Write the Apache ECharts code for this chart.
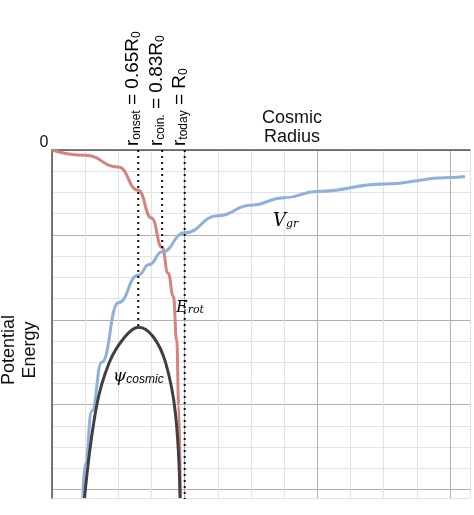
<!DOCTYPE html>
<html>
<head>
<meta charset="utf-8">
<script src="https://cdn.jsdelivr.net/npm/echarts@6/dist/echarts.min.js"></script>
<style>html,body{margin:0;padding:0;background:#fff}#container{width:474px;height:515px}</style>
</head>
<body>
<div id="container"></div>
<script>
// x in grid units (R0 = 4), y = potential energy (negative down)
var erotX = [0, 1, 2, 2.6, 3, 3.32, 3.5, 3.66, 3.76, 3.82, 3.87];
var erotY = [0, -0.25, -0.8, -1.9, -3.2, -4.6, -5.8, -6.9, -9.0, -12.0, -16.4];
var vgrX = [0.93, 1.0, 1.2, 1.5, 2, 2.6, 2.93, 3.32, 4, 5, 6, 7, 8, 10, 12, 12.45];
var vgrY = [-16.4, -14.8, -12.3, -10, -7.2, -5.9, -5.4, -4.8, -3.9, -3.1, -2.6, -2.25, -1.95, -1.6, -1.3, -1.25];
var psiX = [0.98, 1.34, 1.73, 2.2, 2.62, 3.05, 3.42, 3.72, 3.86];
var psiY = [-16.4, -12.1, -10, -8.8, -8.35, -8.8, -10, -12.4, -16.4];
var markX = [2.6, 3.32, 4];
var markEnd = [-8.35, -4.8, -16.6];

function pairs(xs, ys) {
    return xs.map(function (x, i) { return [x, -ys[i]]; });
}

var dom = document.getElementById('container');
var myChart = echarts.init(dom);
var minor = '#e2e2e2', major = '#b0b0b0';

var series = [
    {name: 'Erot', type: 'line', data: pairs(erotX, erotY), smooth: 0.5, smoothMonotone: 'x', showSymbol: false,
     lineStyle: {color: '#d4837f', width: 3}, z: 3},
    {name: 'Vgr', type: 'line', data: pairs(vgrX, vgrY), smooth: 0.5, smoothMonotone: 'x', showSymbol: false,
     lineStyle: {color: '#8fb0da', width: 3}, z: 3},
    {name: 'psi', type: 'line', data: pairs(psiX, psiY), smooth: 0.4, showSymbol: false,
     lineStyle: {color: '#404040', width: 3}, z: 4}
];
markX.forEach(function (x, i) {
    series.push({type: 'line', data: [[x, 0], [x, -markEnd[i]]], showSymbol: false, silent: true,
        lineStyle: {color: '#111', width: 2, type: [2, 4]}, z: 5});
});

var option = {
    animation: false,
    grid: {left: 52, top: 150, right: 4, bottom: 17},
    xAxis: {
        type: 'value', position: 'top', min: 0, max: 12.6, interval: 1,
        axisLine: {lineStyle: {color: '#555', width: 1.5}}, axisTick: {show: false}, axisLabel: {show: false},
        splitLine: {lineStyle: {color: [major, minor, minor, minor], width: 1}}
    },
    yAxis: {
        type: 'value', inverse: true, min: 0, max: 16.4, interval: 1,
        axisLine: {show: true, onZero: false, lineStyle: {color: '#555', width: 1.5}},
        axisTick: {show: false}, axisLabel: {show: false},
        splitLine: {lineStyle: {color: [major, minor, minor, minor], width: 1}}
    },
    series: series
};
myChart.setOption(option);

var sub = {fontSize: 12, fontFamily: 'Liberation Sans', color: '#111', verticalAlign: 'bottom'};
var main = {fontSize: 19, fontFamily: 'Liberation Sans', color: '#111'};
var names = [['onset', '0.65'], ['coin.', '0.83'], ['today', '']];
var graphics = names.map(function (n, i) {
    var p = myChart.convertToPixel('grid', [markX[i], 0]);
    var txt = '{m|r}{s|' + n[0] + '}{m| = ' + (n[1] ? n[1] + 'R}{s|0}' : 'R}{s|0}');
    return {type: 'text', x: p[0] - 5, y: 146, rotation: Math.PI / 2,
        style: {text: txt, rich: {m: main, s: sub}, align: 'left', verticalAlign: 'middle'}};
});
var italic = {fontFamily: 'DejaVu Serif', fontStyle: 'italic', color: '#222'};
graphics.push(
    {type: 'text', x: 44, y: 143, style: {text: '0', font: '16px Liberation Sans', fill: '#111', align: 'center', verticalAlign: 'middle'}},
    {type: 'text', x: 292, y: 128, style: {text: 'Cosmic\nRadius', font: '18px Liberation Sans', fill: '#111', align: 'center', verticalAlign: 'middle', lineHeight: 19}},
    {type: 'text', x: 20, y: 350, rotation: Math.PI / 2, style: {text: 'Potential\nEnergy', font: '18px Liberation Sans', fill: '#111', align: 'center', verticalAlign: 'middle', lineHeight: 21}},
    {type: 'text', x: 273, y: 221, style: {text: '{a|V}{b|gr}', rich: {a: Object.assign({fontSize: 18}, italic), b: Object.assign({fontSize: 11, verticalAlign: 'bottom'}, italic)}, verticalAlign: 'middle'}},
    {type: 'text', x: 176, y: 308, style: {text: '{a|E}{b|rot}', rich: {a: Object.assign({fontSize: 16}, italic), b: Object.assign({fontSize: 11, verticalAlign: 'bottom'}, italic)}, verticalAlign: 'middle'}},
    {type: 'text', x: 113, y: 377, style: {text: '{a|ψ}{b|cosmic}', rich: {a: Object.assign({fontSize: 17}, italic), b: {fontSize: 12, fontFamily: 'Liberation Sans', fontStyle: 'italic', color: '#222', verticalAlign: 'bottom'}}, verticalAlign: 'middle'}}
);
myChart.setOption({graphic: graphics});
</script>
</body>
</html>
